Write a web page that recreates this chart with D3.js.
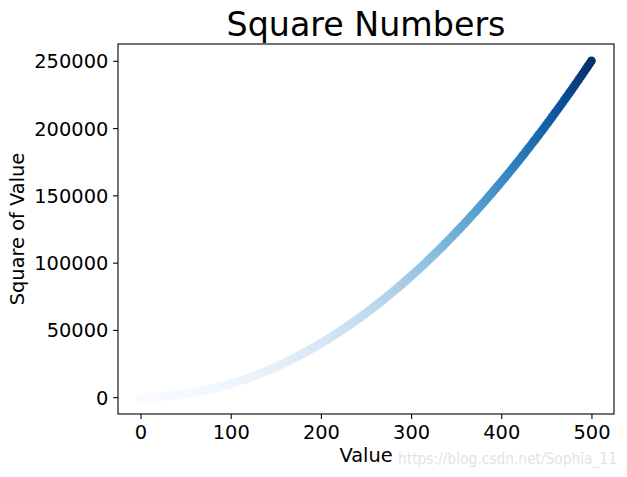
<!DOCTYPE html>
<html>
<head>
<meta charset="utf-8">
<script src="https://cdn.jsdelivr.net/npm/d3@7"></script>
<style>
  html, body { margin: 0; padding: 0; background: #fff; }
  svg { display: block; }
  text { font-family: "DejaVu Sans", sans-serif; fill: #000; }
</style>
</head>
<body>
<svg id="chart" width="627" height="477"></svg>
<script>
// ---- data ----
const xValues = [0,2,4,6,8,10,12,14,16,18,20,22,24,26,28,30,32,34,36,38,40,42,44,46,48,
  50,52,54,56,58,60,62,64,66,68,70,72,74,76,78,80,82,84,86,88,90,92,94,96,98,
  100,102,104,106,108,110,112,114,116,118,120,122,124,126,128,130,132,134,136,138,140,142,144,146,148,
  150,152,154,156,158,160,162,164,166,168,170,172,174,176,178,180,182,184,186,188,190,192,194,196,198,
  200,202,204,206,208,210,212,214,216,218,220,222,224,226,228,230,232,234,236,238,240,242,244,246,248,
  250,252,254,256,258,260,262,264,266,268,270,272,274,276,278,280,282,284,286,288,290,292,294,296,298,
  300,302,304,306,308,310,312,314,316,318,320,322,324,326,328,330,332,334,336,338,340,342,344,346,348,
  350,352,354,356,358,360,362,364,366,368,370,372,374,376,378,380,382,384,386,388,390,392,394,396,398,
  400,402,404,406,408,410,412,414,416,418,420,422,424,426,428,430,432,434,436,438,440,442,444,446,448,
  450,452,454,456,458,460,462,464,466,468,470,472,474,476,478,480,482,484,486,488,490,492,494,496,498,500];
const yValues = [0,4,16,36,64,100,144,196,256,324,400,484,576,676,784,900,1024,1156,1296,1444,1600,1764,1936,2116,2304,
  2500,2704,2916,3136,3364,3600,3844,4096,4356,4624,4900,5184,5476,5776,6084,6400,6724,7056,7396,7744,8100,8464,8836,9216,9604,
  10000,10404,10816,11236,11664,12100,12544,12996,13456,13924,14400,14884,15376,15876,16384,16900,17424,17956,18496,19044,19600,20164,20736,21316,21904,
  22500,23104,23716,24336,24964,25600,26244,26896,27556,28224,28900,29584,30276,30976,31684,32400,33124,33856,34596,35344,36100,36864,37636,38416,39204,
  40000,40804,41616,42436,43264,44100,44944,45796,46656,47524,48400,49284,50176,51076,51984,52900,53824,54756,55696,56644,57600,58564,59536,60516,61504,
  62500,63504,64516,65536,66564,67600,68644,69696,70756,71824,72900,73984,75076,76176,77284,78400,79524,80656,81796,82944,84100,85264,86436,87616,88804,
  90000,91204,92416,93636,94864,96100,97344,98596,99856,101124,102400,103684,104976,106276,107584,108900,110224,111556,112896,114244,115600,116964,118336,119716,121104,
  122500,123904,125316,126736,128164,129600,131044,132496,133956,135424,136900,138384,139876,141376,142884,144400,145924,147456,148996,150544,152100,153664,155236,156816,158404,
  160000,161604,163216,164836,166464,168100,169744,171396,173056,174724,176400,178084,179776,181476,183184,184900,186624,188356,190096,191844,193600,195364,197136,198916,200704,
  202500,204304,206116,207936,209764,211600,213444,215296,217156,219024,220900,222784,224676,226576,228484,230400,232324,234256,236196,238144,240100,242064,244036,246016,248004,250000];
const xTicks = [0, 100, 200, 300, 400, 500];
const yTicks = [0, 50000, 100000, 150000, 200000, 250000];
const titleText = "Square Numbers";
const xLabelText = "Value";
const yLabelText = "Square of Value";
const watermarkText = "https://blog.csdn.net/Sophia_11";

// ---- layout ----
const L = 118, R = 614, T = 44, B = 414;
const svg = d3.select("#chart");

const x = d3.scaleLinear().domain([-25, 525]).range([L, R]);
const y = d3.scaleLinear().domain([-12500, 262500]).range([B, T]);
const color = d3.scaleSequential(d3.interpolateBlues).domain([d3.min(yValues), d3.max(yValues)]);

const pts = xValues.map((v, i) => ({ x: v, y: yValues[i] }));

svg.append("g")
  .selectAll("circle")
  .data(pts)
  .enter().append("circle")
  .attr("cx", d => x(d.x))
  .attr("cy", d => y(d.y))
  .attr("r", 4.4)
  .attr("fill", d => color(d.y));

// axes
const xAxis = d3.axisBottom(x).tickValues(xTicks).tickSize(4.9).tickPadding(4).tickFormat(d3.format("d"));
const yAxis = d3.axisLeft(y).tickValues(yTicks).tickSize(4.9).tickPadding(4).tickFormat(d3.format("d"));

const gx = svg.append("g").attr("transform", `translate(0,${B})`).call(xAxis);
const gy = svg.append("g").attr("transform", `translate(${L},0)`).call(yAxis);
[gx, gy].forEach(g => {
  g.select(".domain").remove();
  g.selectAll(".tick line").attr("stroke", "#000").attr("stroke-width", 1.1);
  g.selectAll(".tick text").attr("font-family", "DejaVu Sans").attr("font-size", "19.4px").attr("fill", "#000");
});
gx.selectAll(".tick text").attr("dy", null).attr("y", 24.5);
gy.selectAll(".tick text").attr("dy", "0.36em").attr("x", -9.7);

// frame
svg.append("rect")
  .attr("x", L).attr("y", T).attr("width", R - L).attr("height", B - T)
  .attr("fill", "none").attr("stroke", "#000").attr("stroke-width", 1.1);

// title & labels
svg.append("text")
  .attr("x", (L + R) / 2).attr("y", 36)
  .attr("text-anchor", "middle").attr("font-size", "33.3px")
  .text(titleText);

svg.append("text")
  .attr("x", (L + R) / 2).attr("y", 462)
  .attr("text-anchor", "middle").attr("font-size", "19.4px")
  .text(xLabelText);

svg.append("text")
  .attr("transform", `translate(24,${(T + B) / 2}) rotate(-90)`)
  .attr("text-anchor", "middle").attr("font-size", "19.4px")
  .text(yLabelText);

// watermark
svg.append("text")
  .attr("x", 398).attr("y", 464)
  .attr("font-family", "Liberation Sans, Arial, sans-serif")
  .attr("font-size", "15.5px")
  .attr("textLength", 219)
  .attr("lengthAdjust", "spacingAndGlyphs")
  .style("fill", "#e3e3e3")
  .text(watermarkText);
</script>
</body>
</html>
